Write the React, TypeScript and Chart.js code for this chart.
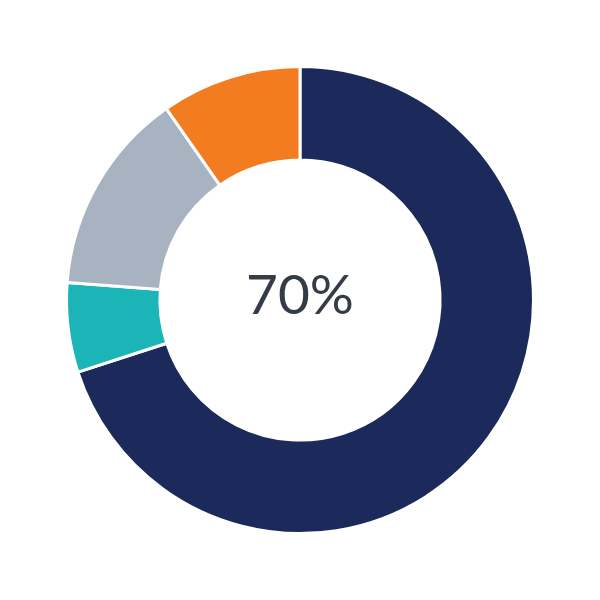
import React, { useEffect, useRef } from "react";
import Chart from "chart.js/auto";

const labels = ["Navy", "Teal", "Gray", "Orange"];
const values = [70, 6.2, 14.1, 9.7];
const colors = ["#1b2a5b", "#1bb5b7", "#a8b3c1", "#f37c20"];
const centerLabel = "70%";

const centerText = {
  id: "centerText",
  afterDraw(chart: any) {
    const { ctx, chartArea } = chart;
    const x = (chartArea.left + chartArea.right) / 2;
    const y = (chartArea.top + chartArea.bottom) / 2;
    ctx.save();
    ctx.font = "400 55px Lato";
    ctx.fillStyle = "#343c47";
    ctx.textAlign = "center";
    ctx.textBaseline = "middle";
    ctx.fillText(centerLabel, x, y - 4);
    ctx.restore();
  },
};

export default function App() {
  const chartRef = useRef<HTMLCanvasElement | null>(null);
  const chartInstanceRef = useRef<Chart | null>(null);

  useEffect(() => {
    if (chartRef.current) {
      if (chartInstanceRef.current) {
        chartInstanceRef.current.destroy();
      }
      chartInstanceRef.current = new Chart(chartRef.current, {
        type: "doughnut",
        data: {
          labels: labels,
          datasets: [
            {
              data: values,
              backgroundColor: colors,
              borderColor: "#ffffff",
              borderWidth: 3,
            },
          ],
        },
        options: {
          responsive: false,
          animation: false,
          cutout: "60%",
          layout: { padding: 65 },
          plugins: {
            legend: { display: false },
            tooltip: { enabled: false },
          },
        },
        plugins: [centerText],
      });
    }
    return () => {
      if (chartInstanceRef.current) {
        chartInstanceRef.current.destroy();
      }
    };
  }, []);

  return (
    <div style={{ position: "absolute", left: 0, top: 0, width: 600, height: 600 }}>
      <canvas ref={chartRef} width={600} height={600}></canvas>
    </div>
  );
}
